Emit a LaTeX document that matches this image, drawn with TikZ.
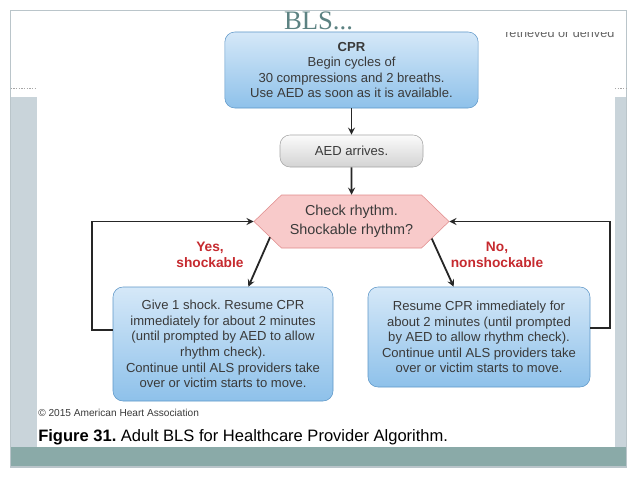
\documentclass[tikz,border=0pt]{standalone}
\usepackage{fontspec}
\setmainfont{Liberation Sans}
\newfontfamily\titlefont{Liberation Serif}
\usepackage{tikz}
\usetikzlibrary{calc,positioning,arrows,shapes.symbols}
\frenchspacing
\definecolor{bluetop}{HTML}{D5E8F8}
\definecolor{bluebot}{HTML}{8EC1EA}
\definecolor{boxline}{HTML}{5E97C8}
\definecolor{greytop}{HTML}{FBFBFB}
\definecolor{greybot}{HTML}{D3D3D3}
\definecolor{greyline}{HTML}{A6A6A6}
\definecolor{pinkfill}{HTML}{F8CACA}
\definecolor{pinkline}{HTML}{E08B8B}
\definecolor{ansred}{HTML}{C62A2F}
\definecolor{txt}{HTML}{3A3A3A}
\definecolor{panel}{HTML}{C9D4DA}
\definecolor{band}{HTML}{8AAAA8}
\definecolor{frame}{HTML}{BAC5CA}
\definecolor{titlecol}{HTML}{5C8282}
\begin{document}
\begin{tikzpicture}[x=0.75pt,y=-0.75pt,
  bluebox/.style={draw=boxline,rounded corners=7.5pt,top color=bluetop,bottom color=bluebot,align=center,text=txt,inner sep=0pt,font=\fontsize{9.8}{11.7}\selectfont},
  greybox/.style={draw=greyline,rounded corners=7.5pt,top color=greytop,bottom color=greybot,align=center,text=txt,inner sep=0pt,font=\fontsize{9.8}{11.7}\selectfont},
  decision/.style={signal,signal to=east and west,signal pointer angle=88,draw=pinkline,fill=pinkfill,align=center,text=txt,inner sep=0pt,font=\fontsize{10.8}{14}\selectfont},
  answer/.style={text=ansred,align=center,font=\bfseries\fontsize{10.3}{11.5}\selectfont},
  flow/.style={->,>=stealth,line width=1.35pt,black!85}]
  \useasboundingbox (0,0) rectangle (638,478);
  \fill[white] (0,0) rectangle (638,478);
  \fill[panel] (10,97) rectangle (37,447);
  \fill[panel] (615,97) rectangle (626.5,447);
  \fill[band] (10,447) rectangle (626.5,467);
  \draw[frame,line width=0.8pt] (10.5,10.5) rectangle (626.5,467);
  \draw[gray!70,dashed,dash pattern=on 1pt off 1pt] (10.5,88.5) -- (37,88.5);
  \draw[gray!70,dashed,dash pattern=on 1pt off 1pt] (615,88.5) -- (626.5,88.5);

  \node[anchor=base,text=titlecol,font=\titlefont\fontsize{20}{20}\selectfont] (title) at (318.5,30) {BLS...};
  \begin{scope}
    \clip (500,32.5) rectangle (620,40);
    \node[anchor=base west,inner sep=0pt,text=gray!80!black,font=\fontsize{9.5}{11}\selectfont] (retr) at (505,37.5) {retrieved or derived};
  \end{scope}

  \node[bluebox,minimum width=190pt,minimum height=57pt] (cpr) at (351.5,70) {\textbf{CPR}\\Begin cycles of\\30 compressions and 2 breaths.\\Use AED as soon as it is available.};
  \node[greybox,minimum width=107.25pt,minimum height=24pt] (aed) at (351.5,151) {AED arrives.};
  \node[decision,minimum width=146.25pt,minimum height=39.75pt] (check) at (351.5,221.5) {Check rhythm.\\Shockable rhythm?};
  \node[bluebox,minimum width=165pt,minimum height=85.5pt] (lbox) at (223,344) {Give 1 shock. Resume CPR\\immediately for about 2 minutes\\(until prompted by AED to allow\\rhythm check).\\Continue until ALS providers take\\over or victim starts to move.};
  \node[bluebox,minimum width=166.5pt,minimum height=75pt] (rbox) at (479,337) {Resume CPR immediately for\\about 2 minutes (until prompted\\by AED to allow rhythm check).\\Continue until ALS providers take\\over or victim starts to move.};
  \node[answer] (yes) at (210,255) {Yes,\\shockable};
  \node[answer] (no) at (497,255) {No,\\nonshockable};

  \draw[flow] (cpr) -- (aed);
  \draw[flow] (aed) -- (check);
  \draw[flow] (check.191) -- ([xshift=19pt]lbox.north);
  \draw[flow] (check.-12) -- ([xshift=-19pt]rbox.north);
  \draw[flow] ([yshift=10.5pt]lbox.west) -- ++(-21,0) |- (check.west);
  \draw[flow] ([yshift=6.75pt]rbox.east) -- ++(20,0) |- (check.east);

  \node[anchor=base west,inner sep=0pt,text=txt,font=\fontsize{7.6}{9}\selectfont] (copy) at (38,416) {\textcopyright{} 2015 American Heart Association};
  \node[anchor=base west,inner sep=0pt,text=black,font=\fontsize{12.4}{14}\selectfont] (fig) at (38,441) {\textbf{Figure 31.} Adult BLS for Healthcare Provider Algorithm.};
\end{tikzpicture}
\end{document}
